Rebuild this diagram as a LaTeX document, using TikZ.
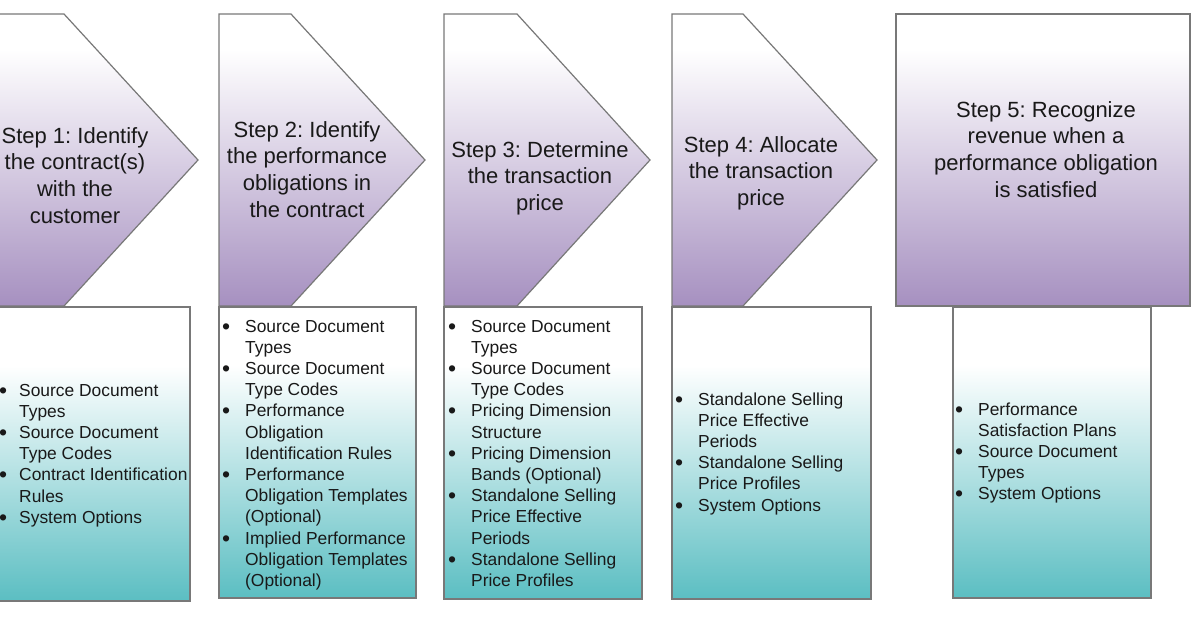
\documentclass[tikz,border=0pt]{standalone}
\usepackage{fontspec}
\setmainfont{Liberation Sans}
\frenchspacing
\definecolor{stepP}{RGB}{166,144,192}
\definecolor{boxT}{RGB}{91,190,194}
\definecolor{edge}{RGB}{120,120,120}
\definecolor{ink}{RGB}{25,25,25}
\pgfdeclareverticalshading{stepshade}{100bp}{color(0bp)=(stepP); color(25bp)=(stepP); color(69bp)=(white); color(100bp)=(white)}
\pgfdeclareverticalshading{boxshade}{100bp}{color(0bp)=(boxT); color(25bp)=(boxT); color(65bp)=(white); color(100bp)=(white)}
\newcommand\bu[1][23pt]{\makebox[#1][l]{\raisebox{-2pt}{\fontsize{23}{23}\selectfont\textbullet}}}
\tikzset{
  steppath/.style={draw=edge, line width=1.2pt, shading=stepshade},
  listbox/.style={draw=edge, line width=1.2pt, shading=boxshade},
  steptext/.style={inner sep=0pt, text=ink, anchor=base, font=\frenchspacing\fontsize{22}{26.7}\selectfont},
  listtext/.style={inner sep=0pt, text=ink, anchor=base west, font=\frenchspacing\fontsize{17.4}{21.2}\selectfont},
}
\begin{document}
\begin{tikzpicture}[x=1pt,y=-1pt]
\useasboundingbox (0,0) rectangle (1200,630);
\fill[white] (0,0) rectangle (1200,630);
\clip (0,0) rectangle (1200,630);
% step shapes
\path[steppath] (-8,14) -- (64,14) -- (198,160) -- (64,306) -- (-8,306) -- cycle;
\path[steppath] (219,14) -- (291,14) -- (425,160) -- (291,306) -- (219,306) -- cycle;
\path[steppath] (444,14) -- (517,14) -- (650,160) -- (517,306) -- (444,306) -- cycle;
\path[steppath] (672,14) -- (743,14) -- (877,160) -- (743,306) -- (672,306) -- cycle;
\path[steppath] (896,14) rectangle (1190,306);
% list boxes
\path[listbox] (-7,307) rectangle (190,601);
\path[listbox] (219,307) rectangle (416,598);
\path[listbox] (444,307) rectangle (642,599);
\path[listbox] (672,307) rectangle (871,599);
\path[listbox] (953,307) rectangle (1151,598);
% step texts
\node[steptext] (s1) at (75,143) {\begin{tabular}[t]{@{}c@{}}Step 1: Identify\\the contract(s)\\with the\\customer\end{tabular}};
\node[steptext] (s2) at (307,137) {\begin{tabular}[t]{@{}c@{}}Step 2: Identify\\the performance\\obligations in\\the contract\end{tabular}};
\node[steptext] (s3) at (540,157) {\begin{tabular}[t]{@{}c@{}}Step 3: Determine\\the transaction\\price\end{tabular}};
\node[steptext] (s4) at (761,152) {\begin{tabular}[t]{@{}c@{}}Step 4: Allocate\\the transaction\\price\end{tabular}};
\node[steptext] (s5) at (1046,117) {\begin{tabular}[t]{@{}c@{}}Step 5: Recognize\\revenue when a\\performance obligation\\is satisfied\end{tabular}};
% lists
\node[listtext] (l1) at (-1,396) {\begin{tabular}[t]{@{}l@{}l@{}}\bu[20pt]&Source Document\\&Types\\\bu[20pt]&Source Document\\&Type Codes\\\bu[20pt]&Contract Identification\\&Rules\\\bu[20pt]&System Options\end{tabular}};
\node[listtext] (l2) at (222,332) {\begin{tabular}[t]{@{}l@{}l@{}}\bu&Source Document\\&Types\\\bu&Source Document\\&Type Codes\\\bu&Performance\\&Obligation\\&Identification Rules\\\bu&Performance\\&Obligation Templates\\&(Optional)\\\bu&Implied Performance\\&Obligation Templates\\&(Optional)\end{tabular}};
\node[listtext] (l3) at (448,332) {\begin{tabular}[t]{@{}l@{}l@{}}\bu&Source Document\\&Types\\\bu&Source Document\\&Type Codes\\\bu&Pricing Dimension\\&Structure\\\bu&Pricing Dimension\\&Bands (Optional)\\\bu&Standalone Selling\\&Price Effective\\&Periods\\\bu&Standalone Selling\\&Price Profiles\end{tabular}};
\node[listtext] (l4) at (675,405) {\begin{tabular}[t]{@{}l@{}l@{}}\bu&Standalone Selling\\&Price Effective\\&Periods\\\bu&Standalone Selling\\&Price Profiles\\\bu&System Options\end{tabular}};
\node[listtext] (l5) at (955,415) {\begin{tabular}[t]{@{}l@{}l@{}}\bu&Performance\\&Satisfaction Plans\\\bu&Source Document\\&Types\\\bu&System Options\end{tabular}};
\end{tikzpicture}
\end{document}
